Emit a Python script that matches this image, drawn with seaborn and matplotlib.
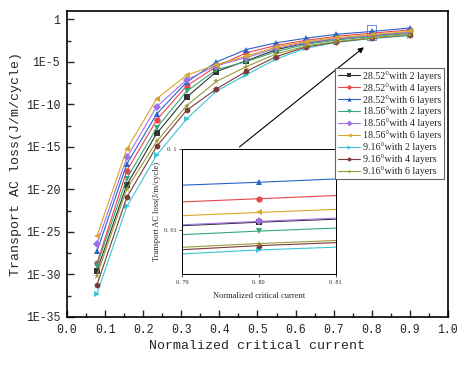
import numpy as np
import pandas as pd
import matplotlib
matplotlib.use("Agg")
import matplotlib.pyplot as plt
import matplotlib.ticker as mticker
from matplotlib.patches import Rectangle
from matplotlib.lines import Line2D
import seaborn as sns

# dados
corrente = [0.0784, 0.1569, 0.2353, 0.3137, 0.3922, 0.4706, 0.5490, 0.6275, 0.7059, 0.80, 0.90]

nomes = ["28.52°with 2 layers", "28.52°with 4 layers", "28.52°with 6 layers",
         "18.56°with 2 layers", "18.56°with 4 layers", "18.56°with 6 layers",
         "9.16°with 2 layers", "9.16°with 4 layers", "9.16°with 6 layers"]

perda_28_2 = [2.6e-30, 3.5e-20, 3.9e-14, 6.9e-10, 7.4e-7, 1.4e-5, 2.8e-4, 1.7e-3, 5.0e-3, 1.26e-2, 3.0e-2]
perda_28_4 = [2.0e-29, 1.6e-18, 1.5e-12, 1.5e-8, 2.9e-6, 1.2e-4, 8.9e-4, 3.5e-3, 1.05e-2, 2.45e-2, 6.0e-2]
perda_28_6 = [5.2e-28, 9.5e-18, 7.6e-12, 4.1e-8, 1.0e-5, 2.9e-4, 1.8e-3, 6.3e-3, 1.8e-2, 3.9e-2, 1.0e-1]
perda_18_2 = [1.1e-29, 1.9e-19, 1.8e-13, 3.5e-9, 1.26e-6, 1.1e-5, 1.7e-4, 1.2e-3, 3.8e-3, 9.8e-3, 2.3e-2]
perda_18_4 = [3.6e-27, 5.8e-17, 5.5e-11, 7.8e-8, 3.8e-6, 3.3e-5, 4.0e-4, 1.9e-3, 5.2e-3, 1.29e-2, 3.2e-2]
perda_18_6 = [3.2e-26, 5.6e-16, 4.8e-10, 2.7e-7, 4.9e-6, 5.0e-5, 5.6e-4, 2.5e-3, 7.1e-3, 1.66e-2, 4.0e-2]
perda_9_2 = [5.1e-33, 1.0e-22, 1.1e-16, 1.9e-12, 3.7e-9, 3.2e-7, 2.2e-5, 4.2e-4, 2.0e-3, 5.75e-3, 1.26e-2]
perda_9_4 = [5.6e-32, 1.2e-21, 1.15e-15, 2.0e-11, 6.8e-9, 7.9e-7, 4.2e-5, 6.0e-4, 2.2e-3, 6.5e-3, 1.5e-2]
perda_9_6 = [7.2e-31, 1.2e-20, 4.5e-15, 7.2e-11, 5.2e-8, 2.8e-6, 8.9e-5, 7.6e-4, 2.5e-3, 6.9e-3, 1.6e-2]

perdas = [perda_28_2, perda_28_4, perda_28_6, perda_18_2, perda_18_4,
          perda_18_6, perda_9_2, perda_9_4, perda_9_6]

cores = ["#333333", "#E8464B", "#2962C9", "#35A875", "#A070E8",
         "#D6A72A", "#3CC5D5", "#7A3A3A", "#9A9A3A"]
marcadores = ["s", "o", "^", "v", "D", "<", ">", "h", "*"]

# tabela longa para o seaborn
df = pd.DataFrame({
    "x": np.tile(corrente, len(nomes)),
    "y": np.concatenate(perdas),
    "serie": np.repeat(nomes, len(corrente)),
})

sns.set_style("ticks")
mono = "Liberation Mono"
serif = "Liberation Serif"

fig = plt.figure(figsize=(4.74, 3.66), dpi=100)
ax = fig.add_axes([0.1414, 0.1339, 0.8036, 0.8361])

paleta = dict(zip(nomes, cores))
marc = dict(zip(nomes, marcadores))

sns.lineplot(data=df, x="x", y="y", hue="serie", style="serie", palette=paleta,
             markers=marc, dashes=False, markersize=4.5, linewidth=0.8,
             markeredgewidth=0, ax=ax, legend=False)

ax.set_yscale("log")
ax.set_xlim(0, 1.0)
ax.set_ylim(1e-35, 10)

ax.xaxis.set_major_locator(mticker.MultipleLocator(0.1))
ax.xaxis.set_minor_locator(mticker.MultipleLocator(0.05))
ax.xaxis.set_major_formatter(mticker.FormatStrFormatter("%.1f"))

yt = [10.0 ** -k for k in range(0, 36, 5)]
ax.yaxis.set_major_locator(mticker.FixedLocator(yt))
ax.yaxis.set_major_formatter(mticker.FixedFormatter(["1"] + ["1E-%d" % k for k in range(5, 36, 5)]))
ax.yaxis.set_minor_locator(mticker.FixedLocator([10.0 ** -(k + 2.5) for k in range(0, 35, 5)]))

ax.tick_params(which="both", direction="in", top=False, right=False, width=1.0)
ax.tick_params(which="major", length=5, labelsize=8.3, pad=5)
ax.tick_params(which="minor", length=3)
for lab in ax.get_xticklabels() + ax.get_yticklabels():
    lab.set_fontfamily(mono)
for s in ax.spines.values():
    s.set_linewidth(1.2)
    s.set_color("black")

ax.set_xlabel("Normalized critical current", fontfamily=mono, fontsize=9.5, labelpad=3)
ax.set_ylabel("Transport AC loss(J/m/cycle)", fontfamily=mono, fontsize=9.5, labelpad=3)

# legenda
handles = [Line2D([0], [0], color=c, marker=m, markersize=3, linewidth=0.8, markeredgewidth=0)
           for c, m in zip(cores, marcadores)]
leg = ax.legend(handles, nomes, loc="upper right", bbox_to_anchor=(0.99, 0.814),
                borderaxespad=0, frameon=True, fancybox=False, framealpha=1,
                edgecolor="#666666", prop={"family": serif, "size": 7.2},
                handlelength=2.2, handletextpad=0.3, labelspacing=0.22, borderpad=0.3)
leg.get_frame().set_linewidth(0.8)

# retangulo e seta
ax.add_patch(Rectangle((0.788, 10 ** -2.4), 0.024, 10 ** -0.6 - 10 ** -2.4,
                       fill=False, edgecolor="#8080E0", linewidth=0.7))
ax.annotate("", xy=(0.785, 10 ** -3.07), xytext=(0.447, 10 ** -15.2),
            arrowprops=dict(arrowstyle="-|>", color="black", lw=0.8, mutation_scale=8))

# grafico interno
axin = ax.inset_axes([0.302, 0.14, 0.403, 0.409])
sns.lineplot(data=df, x="x", y="y", hue="serie", style="serie", palette=paleta,
             markers=marc, dashes=False, markersize=4.5, linewidth=0.8,
             markeredgewidth=0, ax=axin, legend=False)
axin.set_yscale("log")
axin.set_xlim(0.79, 0.81)
axin.set_ylim(0.0029, 0.1)
axin.set_xticks([0.79, 0.80, 0.81])
axin.set_xticklabels(["0. 79", "0. 80", "0. 81"])
axin.yaxis.set_major_locator(mticker.FixedLocator([0.01, 0.1]))
axin.yaxis.set_major_formatter(mticker.FixedFormatter(["0. 01", "0. 1"]))
axin.yaxis.set_minor_locator(mticker.NullLocator())
axin.tick_params(which="both", direction="out", length=2, width=0.6, labelsize=4.5, pad=2)
for lab in axin.get_xticklabels() + axin.get_yticklabels():
    lab.set_fontfamily(serif)
for s in axin.spines.values():
    s.set_linewidth(0.7)
    s.set_color("black")
axin.set_xlabel("Normalized critical current", fontfamily=serif, fontsize=6, labelpad=5)
axin.set_ylabel("Transport AC loss(J/m/cycle)", fontfamily=serif, fontsize=6, labelpad=2)

fig.savefig("out.png", dpi=100)
